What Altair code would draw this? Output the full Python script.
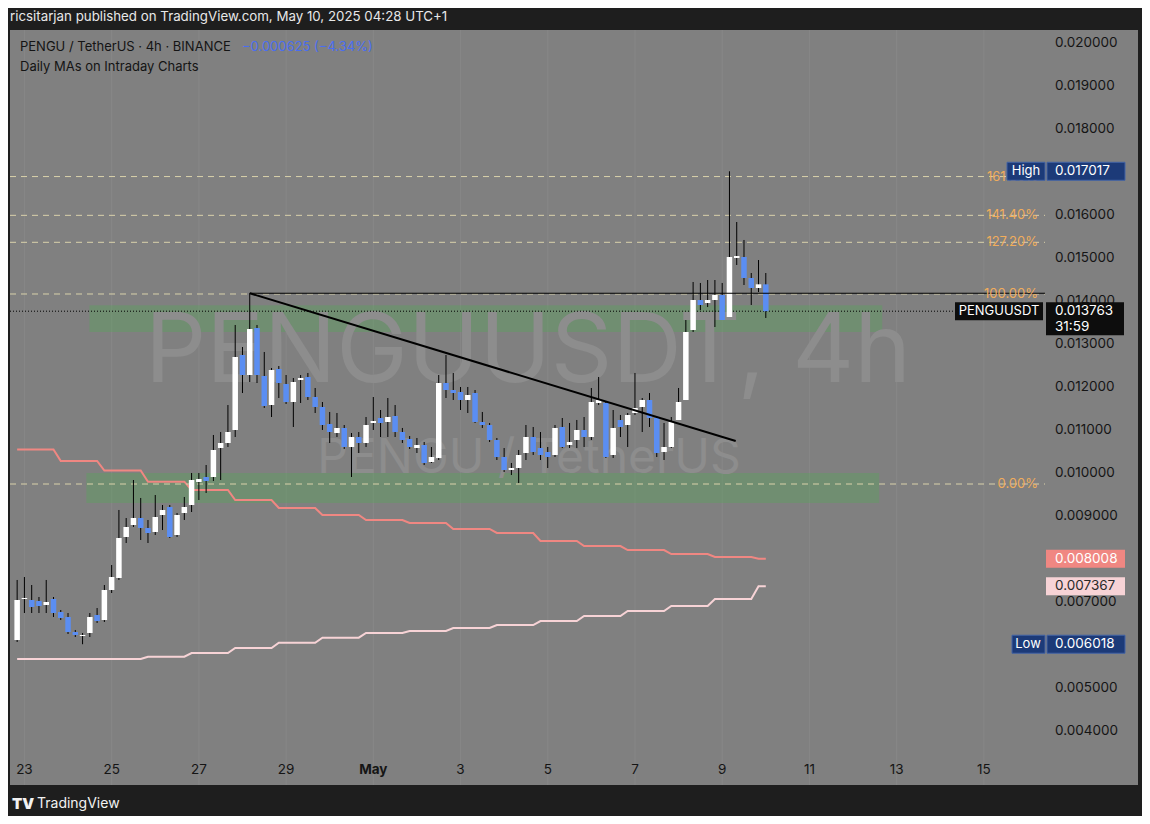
import altair as alt
import pandas as pd

# ---------------- data ----------------
# 4h candles, first one 2025-04-22 20:00, day 0 = 2025-04-23 00:00
opens = [
    0.006116, 0.007070, 0.007047, 0.007023, 0.006930, 0.007070, 0.006767, 0.006651, 0.006302, 0.006209,
    0.006279, 0.006698, 0.006581, 0.007279, 0.007558, 0.008512, 0.008791, 0.008953, 0.008721, 0.008628,
    0.009023, 0.009209, 0.008558, 0.009070, 0.009256, 0.009791, 0.009907, 0.009907, 0.010581, 0.010698,
    0.011000, 0.012744, 0.012279, 0.013372, 0.012256, 0.011581, 0.012419, 0.012070, 0.011651, 0.012163,
    0.012233, 0.011767, 0.011535, 0.011140, 0.010930, 0.011047, 0.010605, 0.010837, 0.010698, 0.011163,
    0.011279, 0.011186, 0.011326, 0.010953, 0.010791, 0.010581, 0.010651, 0.010256, 0.010349, 0.012093,
    0.011930, 0.011884, 0.011698, 0.011860, 0.011186, 0.011116, 0.010767, 0.010372, 0.010070, 0.010116,
    0.010465, 0.010837, 0.010581, 0.010488, 0.010419, 0.011070, 0.010651, 0.010767, 0.011000, 0.010837,
    0.011628, 0.011628, 0.010419, 0.011233, 0.011116, 0.011395, 0.011535, 0.011698, 0.011279, 0.010488,
    0.010605, 0.011233, 0.011698, 0.013326, 0.014023, 0.013953, 0.014023, 0.014140, 0.013628, 0.015000,
    0.015023, 0.014535, 0.014302, 0.014388]
closes = [
    0.007047, 0.007093, 0.006884, 0.006907, 0.007000, 0.006744, 0.006628, 0.006302, 0.006233, 0.006233,
    0.006651, 0.006558, 0.007279, 0.007581, 0.008488, 0.008744, 0.008953, 0.008721, 0.008605, 0.008977,
    0.009140, 0.008512, 0.009023, 0.009209, 0.009837, 0.009860, 0.009814, 0.010535, 0.010698, 0.010953,
    0.012698, 0.012279, 0.013349, 0.012279, 0.011558, 0.012395, 0.012093, 0.011651, 0.012116, 0.012209,
    0.011767, 0.011535, 0.011116, 0.010953, 0.011047, 0.010605, 0.010837, 0.010698, 0.011116, 0.011209,
    0.011163, 0.011302, 0.010953, 0.010767, 0.010605, 0.010651, 0.010233, 0.010372, 0.012093, 0.011930,
    0.011860, 0.011698, 0.011814, 0.011186, 0.011116, 0.010767, 0.010372, 0.010070, 0.010116, 0.010419,
    0.010837, 0.010488, 0.010419, 0.010372, 0.011047, 0.010605, 0.010721, 0.011000, 0.010837, 0.011651,
    0.011698, 0.010372, 0.011047, 0.011070, 0.011349, 0.011512, 0.011698, 0.011279, 0.010465, 0.010605,
    0.011186, 0.011651, 0.013279, 0.014023, 0.013907, 0.014023, 0.014140, 0.013558, 0.015023, 0.015047,
    0.014535, 0.014302, 0.014388, 0.013763]
highs = [
    0.007512, 0.007581, 0.007395, 0.007116, 0.007512, 0.007116, 0.006814, 0.006744, 0.006349, 0.006279,
    0.006744, 0.006860, 0.007395, 0.007860, 0.009140, 0.008953, 0.009837, 0.009419, 0.008907, 0.009488,
    0.009256, 0.009256, 0.009070, 0.009442, 0.010000, 0.010000, 0.010186, 0.010884, 0.010953, 0.011581,
    0.013442, 0.012930, 0.014180, 0.013442, 0.012814, 0.012442, 0.012488, 0.012279, 0.012209, 0.012279,
    0.012326, 0.011977, 0.011651, 0.011419, 0.011395, 0.011116, 0.010930, 0.010953, 0.011302, 0.011767,
    0.011465, 0.011744, 0.011581, 0.011047, 0.010860, 0.010814, 0.010721, 0.010605, 0.012279, 0.012744,
    0.012326, 0.012000, 0.012000, 0.011930, 0.011419, 0.011163, 0.010814, 0.010581, 0.010233, 0.010535,
    0.011116, 0.011070, 0.010953, 0.010605, 0.011116, 0.011279, 0.011163, 0.011233, 0.011302, 0.011977,
    0.012233, 0.011651, 0.011465, 0.011349, 0.011395, 0.012326, 0.011744, 0.011860, 0.011302, 0.011163,
    0.011302, 0.011977, 0.013558, 0.014442, 0.014419, 0.014488, 0.014488, 0.014419, 0.017017, 0.015837,
    0.015419, 0.014651, 0.014953, 0.014651]
lows = [
    0.006070, 0.006744, 0.006744, 0.006744, 0.006744, 0.006651, 0.006581, 0.006256, 0.006186, 0.006018,
    0.006186, 0.006512, 0.006535, 0.007209, 0.007512, 0.008372, 0.008744, 0.008442, 0.008372, 0.008558,
    0.008674, 0.008488, 0.008512, 0.008907, 0.009093, 0.009372, 0.009535, 0.009814, 0.009837, 0.010605,
    0.010837, 0.011860, 0.012116, 0.012093, 0.011512, 0.011302, 0.011744, 0.011605, 0.011070, 0.011628,
    0.011698, 0.011395, 0.011000, 0.010698, 0.010837, 0.010558, 0.009907, 0.010465, 0.010605, 0.011000,
    0.010837, 0.010837, 0.010837, 0.010698, 0.010558, 0.010465, 0.010186, 0.010233, 0.010302, 0.011744,
    0.011698, 0.011465, 0.011395, 0.011163, 0.011047, 0.010721, 0.010302, 0.010023, 0.009953, 0.009767,
    0.010302, 0.010419, 0.010302, 0.010116, 0.010372, 0.010581, 0.010581, 0.010581, 0.010605, 0.010767,
    0.011581, 0.010349, 0.010349, 0.010837, 0.010605, 0.011349, 0.010953, 0.011070, 0.010372, 0.010302,
    0.010581, 0.011233, 0.011698, 0.013279, 0.013791, 0.013860, 0.013395, 0.013558, 0.013628, 0.014837,
    0.014372, 0.013907, 0.014209, 0.013605]

# daily moving averages (one value per trading day, day starts with candle 0, 6, 12, ...)
ma_salmon = [0.010547, 0.010279, 0.010058, 0.009798, 0.009605, 0.009372, 0.009186, 0.009023, 0.008907,
             0.008837, 0.008698, 0.008605, 0.008419, 0.008302, 0.008209, 0.008116, 0.008047, 0.008008]
ma_pink = [0.005674, 0.005674, 0.005674, 0.005728, 0.005814, 0.005930, 0.006053, 0.006170, 0.006279,
           0.006326, 0.006395, 0.006465, 0.006558, 0.006674, 0.006791, 0.006907, 0.007070, 0.007367]

# price-scale labels that are visible (0.006, 0.008 and 0.017 are hidden under tags)
price_ticks = [0.004, 0.005, 0.007, 0.009, 0.010, 0.011, 0.012, 0.013,
               0.014, 0.015, 0.016, 0.018, 0.019, 0.020]
date_tick_days = [0, 2, 4, 6, 8, 10, 12, 14, 16, 18, 20, 22]
date_tick_labels = ["23", "25", "27", "29", "May", "3", "5", "7", "9", "11", "13", "15"]

fib_levels = [0.009744, 0.014163, 0.015365, 0.015992, 0.016894]
fib_labels = ["0.00%", "100.00%", "127.20%", "141.40%", "161.80%"]

zone_x0 = [1.49, 1.42]
zone_x1 = [19.67, 19.60]
zone_lo = [0.01328, 0.00930]
zone_hi = [0.01390, 0.01000]

trend_days = [5.167, 16.31]
trend_prices = [0.01418, 0.010744]
ray_day = 5.167
ray_price = 0.01418

last_price = 0.013763
high_price = 0.017017
low_price = 0.006018
ma_salmon_last = 0.008008
ma_pink_last = 0.007367

# ---------------- tables ----------------
n = len(opens)
candles = pd.DataFrame({
    "i": list(range(n)),
    "open": opens, "close": closes, "high": highs, "low": lows,
})
candles["day"] = (candles["i"] - 1) / 6.0
candles["dir"] = ["up" if c >= o else "down" for o, c in zip(opens, closes)]
candles["ma1"] = [ma_salmon[i // 6] for i in range(n)]
candles["ma2"] = [ma_pink[i // 6] for i in range(n)]

fib_df = pd.DataFrame({"level": fib_levels, "label": fib_labels})
zones = pd.DataFrame({"x0": zone_x0, "x1": zone_x1, "lo": zone_lo, "hi": zone_hi})
trend = pd.DataFrame({"day": trend_days, "price": trend_prices})
grid_df = pd.DataFrame({"day": date_tick_days})
date_df = pd.DataFrame({"day": date_tick_days, "label": date_tick_labels})
price_df = pd.DataFrame({"v": price_ticks, "label": ["%.6f" % p for p in price_ticks]})

FONT = "Inter"
W, H = 1128, 755
RIGHT = 1035  # right edge of the drawing area (price scale starts here)
AX_COLOR = "#151515"

XS = alt.Scale(domain=[-0.216, 25.42], nice=False, zero=False)
YS = alt.Scale(domain=[0.0027442, 0.0203023], nice=False, zero=False)


def one(v):
    return alt.Chart(pd.DataFrame({"v": [v]}))


# grid
vgrid = alt.Chart(grid_df).mark_rule(color="#878787", strokeWidth=1).encode(
    x=alt.X("day:Q", scale=XS, axis=None))

# zones
zone_layer = alt.Chart(zones).mark_rect(color="#4caf50", opacity=0.3).encode(
    x=alt.X("x0:Q", scale=XS, axis=None), x2="x1:Q",
    y=alt.Y("lo:Q", scale=YS, axis=None), y2="hi:Q")

# watermarks
wm1 = one(0).mark_text(text="PENGUUSDT, 4h", font=FONT, fontSize=96, color="#8d8d8d",
                       align="center", baseline="alphabetic").encode(
    x=alt.value(518), y=alt.value(352))
wm2 = one(0).mark_text(text="PENGU / TetherUS", font=FONT, fontSize=48, color="#8d8d8d",
                       align="center", baseline="alphabetic").encode(
    x=alt.value(519), y=alt.value(443))

# price scale labels and time scale labels (scale-positioned text)
price_labels = alt.Chart(price_df).mark_text(align="left", baseline="middle", font=FONT,
                                             fontSize=13.5, color=AX_COLOR).encode(
    y=alt.Y("v:Q", scale=YS, axis=None), x=alt.value(1045), text="label:N")
date_labels = alt.Chart(date_df).transform_filter("datum.label != 'May'").mark_text(
    align="center", baseline="middle", font=FONT, fontSize=13.5, color=AX_COLOR).encode(
    x=alt.X("day:Q", scale=XS, axis=None), y=alt.value(740), text="label:N")
date_labels_bold = alt.Chart(date_df).transform_filter("datum.label == 'May'").mark_text(
    align="center", baseline="middle", font=FONT, fontSize=13.5, fontWeight="bold",
    color=AX_COLOR).encode(
    x=alt.X("day:Q", scale=XS, axis=None), y=alt.value(740), text="label:N")

# moving averages
ma1_line = alt.Chart(candles).mark_line(color="#f08782", strokeWidth=2).encode(
    x=alt.X("day:Q", scale=XS, axis=None), y=alt.Y("ma1:Q", scale=YS, axis=None))
ma2_line = alt.Chart(candles).mark_line(color="#f7d3d6", strokeWidth=2).encode(
    x=alt.X("day:Q", scale=XS, axis=None), y=alt.Y("ma2:Q", scale=YS, axis=None))

# fib levels
fib_lines = alt.Chart(fib_df).mark_rule(color="#d9d1aa", strokeWidth=1, strokeDash=[6, 5]).encode(
    y=alt.Y("level:Q", scale=YS, axis=None), x=alt.value(0), x2=alt.value(RIGHT))
fib_text = alt.Chart(fib_df).mark_text(align="right", baseline="middle", font=FONT, fontSize=13,
                                       color="#f0ad5c").encode(
    y=alt.Y("level:Q", scale=YS, axis=None), x=alt.value(1028), text="label:N")

# current price dotted line
price_line = one(last_price).mark_rule(color="#000000", strokeWidth=1, strokeDash=[1, 2]).encode(
    y=alt.Y("v:Q", scale=YS, axis=None), x=alt.value(0), x2=alt.value(RIGHT))

# candles
wicks = alt.Chart(candles).mark_rule(color="#000000", strokeWidth=1).encode(
    x=alt.X("day:Q", scale=XS, axis=None),
    y=alt.Y("low:Q", scale=YS, axis=None), y2="high:Q")
bodies = alt.Chart(candles).mark_bar(width=5.5).encode(
    x=alt.X("day:Q", scale=XS, axis=None),
    y=alt.Y("open:Q", scale=YS, axis=None), y2="close:Q",
    color=alt.Color("dir:N", scale=alt.Scale(domain=["up", "down"], range=["#ffffff", "#5b8ef2"]),
                    legend=None))

# drawings
ray = alt.Chart(pd.DataFrame({"day": [ray_day], "v": [ray_price]})).mark_rule(
    color="#000000", strokeWidth=1).encode(
    x=alt.X("day:Q", scale=XS, axis=None), x2=alt.value(RIGHT),
    y=alt.Y("v:Q", scale=YS, axis=None))
trend_line = alt.Chart(trend).mark_line(color="#000000", strokeWidth=2).encode(
    x=alt.X("day:Q", scale=XS, axis=None), y=alt.Y("price:Q", scale=YS, axis=None))


def box(v, x1, x2, fill, top=-9, bottom=9, stroke=None):
    kw = dict(fill=fill, yOffset=top, y2Offset=bottom)
    if stroke is not None:
        kw["stroke"] = stroke
        kw["strokeWidth"] = 1
    return one(v).mark_rect(**kw).encode(
        y=alt.Y("v:Q", scale=YS, axis=None), y2="v:Q", x=alt.value(x1), x2=alt.value(x2))


def label(v, x, txt, color, align="left", dy=0, size=13.5, weight="normal"):
    return one(v).mark_text(text=txt, align=align, baseline="middle", font=FONT, fontSize=size,
                            color=color, dy=dy, fontWeight=weight).encode(
        y=alt.Y("v:Q", scale=YS, axis=None), x=alt.value(x))


NAVY = "#1c3a78"
NAVY_EDGE = "#4263a6"
tags = [
    box(high_price, 997, 1035, NAVY, stroke=NAVY_EDGE),
    box(high_price, 1037, 1115, NAVY, stroke=NAVY_EDGE),
    label(high_price, 1016, "High", "#ffffff", align="center", size=13),
    label(high_price, 1045, "%.6f" % high_price, "#ffffff"),
    box(low_price, 1002, 1035, NAVY, stroke=NAVY_EDGE),
    box(low_price, 1037, 1115, NAVY, stroke=NAVY_EDGE),
    label(low_price, 1018, "Low", "#ffffff", align="center", size=13),
    label(low_price, 1045, "%.6f" % low_price, "#ffffff"),
    box(last_price, 945, 1033, "#0d0d0d"),
    label(last_price, 989, "PENGUUSDT", "#ffffff", align="center", size=13),
    box(last_price, 1036, 1114, "#0d0d0d", top=-9, bottom=24),
    label(last_price, 1045, "%.6f" % last_price, "#ffffff"),
    label(last_price, 1045, "31:59", "#ffffff", dy=16),
    box(ma_salmon_last, 1036, 1115, "#f08782"),
    label(ma_salmon_last, 1045, "%.6f" % ma_salmon_last, "#ffffff"),
    box(ma_pink_last, 1036, 1115, "#f7d3d6"),
    label(ma_pink_last, 1045, "%.6f" % ma_pink_last, "#2a2a2a"),
]

# header / legend texts
legend1 = one(0).mark_text(text="PENGU / TetherUS · 4h · BINANCE", font=FONT, fontSize=13,
                           color="#141414", align="left", baseline="middle").encode(
    x=alt.value(10), y=alt.value(17))
legend1b = one(0).mark_text(text="−0.000625 (−4.34%)", font=FONT, fontSize=13,
                            color="#4a6ef0", align="left", baseline="middle").encode(
    x=alt.value(232), y=alt.value(17))
legend2 = one(0).mark_text(text="Daily MAs on Intraday Charts", font=FONT, fontSize=13,
                           color="#141414", align="left", baseline="middle").encode(
    x=alt.value(10), y=alt.value(37))
header = one(0).mark_text(text="ricsitarjan published on TradingView.com, May 10, 2025 04:28 UTC+1",
                          font=FONT, fontSize=13.3, color="#e8e8e8", align="left",
                          baseline="middle").encode(x=alt.value(0), y=alt.value(-13))
logo = one(0).mark_text(text="TV", font=FONT, fontSize=15, fontWeight=900, color="#f2f2f2",
                        align="left", baseline="middle").encode(x=alt.value(2), y=alt.value(774))
brand = one(0).mark_text(text="TradingView", font=FONT, fontSize=14, color="#f2f2f2",
                         align="left", baseline="middle").encode(x=alt.value(27), y=alt.value(774))

chart = alt.layer(
    vgrid, zone_layer, wm1, wm2, price_labels, date_labels, date_labels_bold,
    ma1_line, ma2_line, fib_lines, price_line,
    wicks, bodies, ray, trend_line, fib_text, *tags,
    legend1, legend1b, legend2, header, logo, brand,
).properties(
    width=W, height=H,
    padding={"left": 2, "top": 22, "right": 4, "bottom": 31},
    autosize=alt.AutoSizeParams(type="none"),
    background="#1e1e1e",
).configure_view(fill="#808080", strokeWidth=0)

chart.save("out.html", embed_options={"renderer": "svg", "actions": False})
